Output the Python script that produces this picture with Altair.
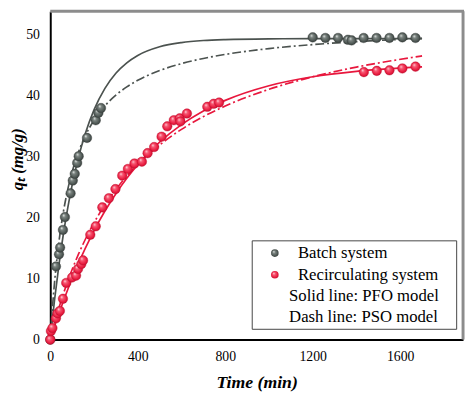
import altair as alt
import pandas as pd

batch_t = [0, 26, 40, 45, 58, 67, 93, 103, 112, 123, 130, 168, 208, 220, 232,
           1200, 1258, 1316, 1361, 1378, 1433, 1492, 1551, 1610, 1670]
batch_q = [0, 12.0, 14.0, 15.1, 18.0, 20.1, 24.0, 26.1, 27.2, 29.0, 30.1, 33.1, 36.0, 37.2, 38.0,
           49.6, 49.5, 49.5, 49.2, 49.1, 49.5, 49.5, 49.5, 49.6, 49.5]

recirc_t = [0, 3, 10, 26, 33, 44, 58, 73, 100, 118, 127, 142, 150, 183, 208, 238, 268, 298,
            329, 355, 385, 419, 445, 475, 509, 535, 565, 592, 595, 625, 718, 747, 772,
            1434, 1493, 1551, 1610, 1670]
recirc_q = [0, 1.4, 1.9, 3.5, 4.3, 4.7, 6.7, 9.3, 10.2, 10.5, 11.6, 12.4, 13.0, 17.2, 18.6, 21.7,
            23.2, 24.7, 26.9, 28.0, 28.9, 29.2, 30.6, 31.6, 33.3, 35.0, 36.0, 36.3, 35.8, 37.1,
            38.2, 38.7, 38.9, 43.9, 44.1, 44.2, 44.5, 44.8]

# ---- model curves ----
model_t = [0, 10, 20, 40, 60, 80, 100, 130, 160, 200, 250, 300, 350, 400, 500, 600, 700,
           800, 1000, 1200, 1400, 1700]
batch_pfo = [0, 3.43, 6.62, 12.36, 17.33, 21.63, 25.35, 30.03, 33.79, 37.70, 41.23, 43.71,
             45.42, 46.63, 48.05, 48.74, 49.08, 49.24, 49.36, 49.39, 49.40, 49.40]
batch_pso = [0, 5.26, 9.55, 16.14, 20.96, 24.63, 27.53, 30.88, 33.43, 36.0, 38.36, 40.11,
             41.47, 42.55, 44.15, 45.29, 46.14, 46.8, 47.76, 48.41, 48.90, 49.42]
recirc_pfo = [0, 1.12, 2.22, 4.32, 6.32, 8.23, 10.04, 12.60, 14.97, 17.86, 21.10, 23.95,
              26.47, 28.70, 32.39, 35.27, 37.51, 39.26, 41.67, 43.14, 44.03, 44.75]
recirc_pso = [0, 1.40, 2.74, 5.23, 7.50, 9.58, 11.5, 14.10, 16.43, 19.17, 22.12, 24.64,
              26.83, 28.75, 31.94, 34.5, 36.59, 38.33, 41.07, 43.13, 44.72, 46.55]

x_ticks = [0, 400, 800, 1200, 1600]
y_ticks = [0, 10, 20, 30, 40, 50]

legend_labels = ["Batch system", "Recirculating system",
                 "Solid line: PFO model", "Dash line: PSO model"]

GRAY = "#4b524f"
RED = "#e8173d"
FONT = "Liberation Serif"

W, H = 420, 334

batch_df = pd.DataFrame({"t": batch_t, "q": batch_q})
recirc_df = pd.DataFrame({"t": recirc_t, "q": recirc_q})
model_df = pd.DataFrame({"t": model_t, "bpfo": batch_pfo, "bpso": batch_pso,
                         "rpfo": recirc_pfo, "rpso": recirc_pso})

xs = alt.Scale(domain=[0, 1887.5], nice=False, zero=False)
ys = alt.Scale(domain=[0, 53.87], nice=False)

X = alt.X("t:Q", scale=xs, axis=alt.Axis(
    values=x_ticks, format="d", title="Time (min)", titleFont=FONT, titleFontStyle="italic",
    titleFontWeight="bold", titleFontSize=18, titleColor="black",
    titleBaseline="alphabetic", titleY=49, titleX=W / 2,
    labelFont=FONT, labelFontSize=14, labelColor="black",
    labelPadding=10, labelFlush=False, grid=False, ticks=False,
    domainColor="black", domainWidth=2))


def Y(field):
    return alt.Y(field, scale=ys, axis=alt.Axis(
        values=y_ticks, format="d", title="qₜ (mg/g)", titleFont=FONT, titleFontStyle="italic",
        titleFontWeight="bold", titleFontSize=17, titleColor="black",
        titleX=-24, titleY=150, labelPadding=11,
        labelFont=FONT, labelFontSize=14, labelColor="black",
        grid=False, ticks=False, domainColor="black", domainWidth=2))


def line(field, color, dash=None):
    kw = dict(color=color, strokeWidth=1.7, interpolate="monotone")
    if dash:
        kw["strokeDash"] = dash
    return alt.Chart(model_df).mark_line(**kw).encode(x=X, y=Y(field + ":Q"))


def ball_fill(c0, c1, c2, c3):
    return {"gradient": "radial", "x1": 0.35, "y1": 0.3, "r1": 0.0,
            "x2": 0.5, "y2": 0.5, "r2": 0.55,
            "stops": [{"offset": 0, "color": c0}, {"offset": 0.3, "color": c1},
                      {"offset": 0.75, "color": c2}, {"offset": 1, "color": c3}]}


GRAY_BALL = ball_fill("#eef1ef", "#7c8581", "#4d5653", "#2c3331")
RED_BALL = ball_fill("#ffe0e6", "#f65a74", "#e91a3e", "#b30d2b")

dash = [9, 3, 2, 3]
lines = (line("bpfo", GRAY) + line("bpso", GRAY, dash) +
         line("rpfo", RED) + line("rpso", RED, dash))

batch_pts = alt.Chart(batch_df).mark_circle(size=95, fill=GRAY_BALL, opacity=1,
                                            stroke="#3a403e", strokeWidth=0.4).encode(
    x=X, y=Y("q:Q"))
recirc_pts = alt.Chart(recirc_df).mark_circle(size=95, fill=RED_BALL, opacity=1,
                                              stroke="#c0102f", strokeWidth=0.4).encode(
    x=X, y=Y("q:Q"))

dummy = pd.DataFrame({"a": [0]})
base = alt.Chart(dummy)

top_rule = base.mark_rule(color="#8c8c8c", strokeWidth=3).encode(
    x=alt.value(0), x2=alt.value(W + 1), y=alt.value(0))
right_rule = base.mark_rule(color="#8c8c8c", strokeWidth=3).encode(
    x=alt.value(W), y=alt.value(0), y2=alt.value(H))

legend_box = base.mark_rect(fill="white", stroke="#444444", strokeWidth=1).encode(
    x=alt.value(205.5), x2=alt.value(413.5), y=alt.value(233.5), y2=alt.value(323.5))
leg_sym1 = base.mark_circle(size=60, fill=GRAY_BALL, opacity=1).encode(
    x=alt.value(228.5), y=alt.value(246))
leg_sym2 = base.mark_circle(size=60, fill=RED_BALL, opacity=1).encode(
    x=alt.value(228.5), y=alt.value(268))


def leg_text(label, x, y):
    return base.mark_text(text=label, font=FONT, fontSize=17, color="black",
                          align="left", baseline="middle").encode(
        x=alt.value(x), y=alt.value(y))


leg_texts = (leg_text(legend_labels[0], 252, 246) + leg_text(legend_labels[1], 252, 268) +
             leg_text(legend_labels[2], 243, 290) + leg_text(legend_labels[3], 243, 311))

chart = alt.layer(
    lines, batch_pts, recirc_pts, top_rule, right_rule,
    legend_box, leg_sym1, leg_sym2, leg_texts
).properties(
    width=W, height=H,
    padding={"left": 43, "top": 0, "right": 3, "bottom": 55},
    autosize=alt.AutoSizeParams(type="none"),
).configure(font=FONT).configure_view(stroke=None).configure_axis(
    labelFont=FONT, titleFont=FONT
)

chart.save("out.html", embed_options={"renderer": "svg", "actions": False})
